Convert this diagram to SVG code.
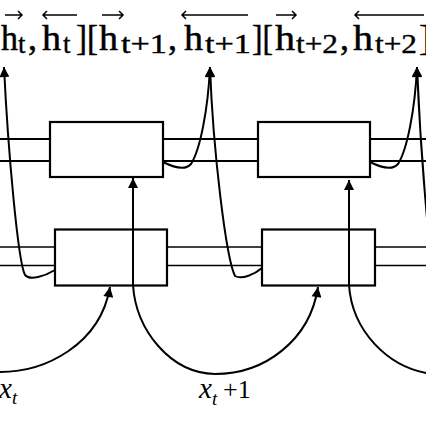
<svg xmlns="http://www.w3.org/2000/svg" width="426" height="426" viewBox="0 0 426 426">
<style>
.box{fill:#fff;stroke:#000;stroke-width:2.2}
.ln{stroke:#000;stroke-width:2;fill:none}
.lnb{stroke:#000;stroke-width:1.7;fill:none}
.cn{stroke:#000;stroke-width:2;fill:none}
.ov{stroke:#000;stroke-width:1.5;fill:none}
.hm{font-family:"Liberation Serif",serif;font-size:36px;stroke:#000;stroke-width:0.5}
.hs{font-family:"Liberation Serif",serif;font-size:27px;stroke:#000;stroke-width:0.4}
.xi{font-family:"Liberation Serif",serif;font-style:italic;font-size:29px}
.xs{font-family:"Liberation Serif",serif;font-style:italic;font-size:19px}
.xr{font-family:"Liberation Serif",serif;font-size:26px}
</style>
<defs>
<marker id="ah" viewBox="0 0 10 10" refX="10" refY="5" markerWidth="11" markerHeight="10" markerUnits="userSpaceOnUse" orient="auto">
<path d="M0,0 L10,5 L0,10 z" fill="#000"/>
</marker>
</defs>
<g id="hlines">
<line class="ln" x1="0" y1="139" x2="50" y2="139"/>
<line class="ln" x1="0" y1="161" x2="50" y2="161"/>
<line class="ln" x1="163" y1="139" x2="258" y2="139"/>
<line class="ln" x1="163" y1="161" x2="258" y2="161"/>
<line class="ln" x1="370" y1="139" x2="426" y2="139"/>
<line class="ln" x1="370" y1="161" x2="426" y2="161"/>
<line class="lnb" x1="0" y1="247" x2="55" y2="247"/>
<line class="lnb" x1="0" y1="265.5" x2="55" y2="265.5"/>
<line class="lnb" x1="167" y1="247" x2="262" y2="247"/>
<line class="lnb" x1="167" y1="265.5" x2="262" y2="265.5"/>
<line class="lnb" x1="375" y1="247" x2="426" y2="247"/>
<line class="lnb" x1="375" y1="265.5" x2="426" y2="265.5"/>
</g>
<g id="top1"><rect class="box" x="50" y="122" width="113" height="55"/></g>
<g id="top2"><rect class="box" x="258" y="122" width="112" height="55"/></g>
<g id="bot1"><rect class="box" x="55" y="229.5" width="112" height="56"/></g>
<g id="bot2"><rect class="box" x="262" y="229.5" width="113" height="56"/></g>
<g id="connectors">
<path class="cn" d="M163,162 C175,168 186,170 191,164 C200,150 208,110 210,67" marker-end="url(#ah)"/>
<path class="cn" d="M370,162 C382,168 393,170 398,164 C407,150 415,110 417,67" marker-end="url(#ah)"/>
<path class="cn" d="M55,270 C45,276 30,281 25,275 C18,262 8,150 4,67" marker-end="url(#ah)"/>
<path class="cn" d="M262,268 C255,274 242,280 235,276 C226,258 213,150 210,67" marker-end="url(#ah)"/>
<path class="cn" d="M430,250 C425,200 420,140 417,67" marker-end="url(#ah)"/>
<path class="cn" d="M0,372 C45,372 100,345 110,287" marker-end="url(#ah)"/>
<path class="cn" d="M215,374 C170,373 136,330 133,285 L133,178" marker-end="url(#ah)"/>
<path class="cn" d="M215,374 C265,374 310,340 318,287" marker-end="url(#ah)"/>
<path class="cn" d="M432,374 C387,368 352,330 349,285 L349,180" marker-end="url(#ah)"/>
</g>
<g id="toplabel">
<text class="hm" x="1" y="50" textLength="17" lengthAdjust="spacingAndGlyphs">h</text>
<text class="hs" x="18" y="53">t</text>
<text class="hm" x="28" y="50">,</text>
<text class="hm" x="42" y="50" textLength="19" lengthAdjust="spacingAndGlyphs">h</text>
<text class="hs" x="63" y="53">t</text>
<text class="hm" x="76" y="50" textLength="22" lengthAdjust="spacingAndGlyphs">][</text>
<text class="hm" x="99" y="50" textLength="19" lengthAdjust="spacingAndGlyphs">h</text>
<text class="hs" x="121" y="53" textLength="46" lengthAdjust="spacingAndGlyphs">t+1</text>
<text class="hm" x="168" y="50">,</text>
<text class="hm" x="184" y="50" textLength="19" lengthAdjust="spacingAndGlyphs">h</text>
<text class="hs" x="205" y="53" textLength="46" lengthAdjust="spacingAndGlyphs">t+1</text>
<text class="hm" x="252" y="50" textLength="21" lengthAdjust="spacingAndGlyphs">][</text>
<text class="hm" x="275" y="50" textLength="20" lengthAdjust="spacingAndGlyphs">h</text>
<text class="hs" x="296" y="53" textLength="42" lengthAdjust="spacingAndGlyphs">t+2</text>
<text class="hm" x="340" y="50">,</text>
<text class="hm" x="353" y="50" textLength="20" lengthAdjust="spacingAndGlyphs">h</text>
<text class="hs" x="375" y="53" textLength="42" lengthAdjust="spacingAndGlyphs">t+2</text>
<text class="hm" x="419" y="50">]</text>
<path class="ov" d="M5,15 H22 M18,11 L22,15 L18,19"/>
<path class="ov" d="M77,15 H43 M47,11 L43,15 L47,19"/>
<path class="ov" d="M102,15 H123 M119,11 L123,15 L119,19"/>
<path class="ov" d="M248,15 H182 M186,11 L182,15 L186,19"/>
<path class="ov" d="M276,15 H296 M292,11 L296,15 L292,19"/>
<path class="ov" d="M424,15 H355 M359,11 L355,15 L359,19"/>
</g>
<g id="xt">
<text class="xi" x="-1" y="398">x</text>
<text class="xs" x="12" y="404">t</text>
</g>
<g id="xt1">
<text class="xi" x="199" y="398">x</text>
<text class="xs" x="212" y="405">t</text>
<text class="xr" x="223" y="398">+1</text>
</g>
</svg>
